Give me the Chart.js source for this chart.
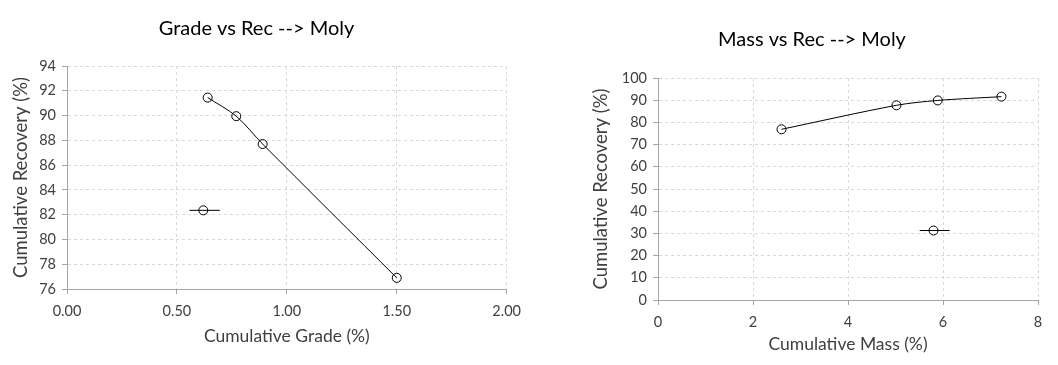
<!DOCTYPE html>
<html>
<head>
<meta charset="utf-8">
<script src="https://cdn.jsdelivr.net/npm/chart.js@4"></script>
<style>
  body { margin: 0; background: #fff; }
  .box { position: absolute; top: 0; height: 365px; }
  #left { left: 0; width: 530px; }
  #right { left: 530px; width: 528px; }
</style>
</head>
<body>
<div class="box" id="left"><canvas id="gradeChart"></canvas></div>
<div class="box" id="right"><canvas id="massChart"></canvas></div>
<script>
// ** Moly recovery curves

// grade vs recovery
var gradeX = [0.64, 0.77, 0.89, 1.50];
var gradeRec = [91.45, 89.95, 87.7, 76.9];
var gradeHead = [0.62];        // head assay point
var gradeHeadRec = [82.35];
var gradeErr = [0.557, 0.695]; // horizontal error bar ends

// mass vs recovery
var massX = [2.6, 5.02, 5.89, 7.23];
var massRec = [76.9, 87.7, 89.9, 91.6];
var massHead = [5.8];
var massHeadRec = [31.3];
var massErr = [5.51, 6.14];

var gradeTicks = { min: 0, max: 2, step: 0.5 };
var gradeRecTicks = { min: 76, max: 94, step: 2 };
var massTicks = { min: 0, max: 8, step: 2 };
var massRecTicks = { min: 0, max: 100, step: 10 };

Chart.defaults.font.family = "Lato, 'Open Sans', sans-serif";
Chart.defaults.color = '#404040';

function pts(xs, ys) {
	var out = [];
	for (var i in xs) {
		out.push({ x: xs[i], y: ys[i] });
	}
	return out;
}

function axis(t, title, decimals, titleSize, tickPad, size) {
	return {
		type: 'linear',
		min: t.min,
		max: t.max,
		ticks: {
			stepSize: t.step,
			font: { size: 14.5 },
			padding: tickPad,
			callback: function(v) { return v.toFixed(decimals); }
		},
		grid: {
			color: '#d9d9d9',
			tickColor: '#a6a6a6',
			tickBorderDash: [],
			tickLength: 5
		},
		border: { display: true, color: '#a6a6a6', dash: [3, 3] },
		title: {
			display: true,
			text: title,
			font: { size: titleSize },
			padding: { top: 4, bottom: 4 }
		},
		afterFit: size
	};
}

function makeChart(id, cfg) {
	var ctx = document.getElementById(id);
	return new Chart(ctx, {
		type: 'scatter',
		data: {
			datasets: [{
				label: 'curve',
				data: pts(cfg.x, cfg.y),
				showLine: true,
				borderColor: '#000',
				borderWidth: 1,
				tension: 0.3,
				pointRadius: 4.5,
				pointBorderWidth: 1,
				pointBorderColor: '#000',
				pointBackgroundColor: 'rgba(255,255,255,0)'
			}, {
				label: 'error',
				data: pts(cfg.err, [cfg.headY[0], cfg.headY[0]]),
				showLine: true,
				borderColor: '#000',
				borderWidth: 1,
				pointRadius: 0
			}, {
				label: 'head',
				data: pts(cfg.headX, cfg.headY),
				pointRadius: 4.5,
				pointBorderWidth: 1,
				pointBorderColor: '#000',
				pointBackgroundColor: 'rgba(255,255,255,0)'
			}]
		},
		options: {
			responsive: true,
			maintainAspectRatio: false,
			animation: false,
			layout: { padding: cfg.pad },
			plugins: {
				legend: { display: false },
				tooltip: { enabled: false },
				title: {
					display: true,
					text: cfg.title,
					color: '#000',
					font: { size: 20, weight: 'normal' },
					padding: cfg.titlePad
				}
			},
			scales: {
				x: axis(cfg.xt, cfg.xTitle, cfg.xDec, 17.5, 9, function(s) { s.height = cfg.xH; }),
				y: axis(cfg.yt, 'Cumulative Recovery (%)', 0, 18.5, 6, function(s) { s.width = cfg.yW; })
			}
		}
	});
}

makeChart('gradeChart', {
	x: gradeX, y: gradeRec, headX: gradeHead, headY: gradeHeadRec, err: gradeErr,
	xt: gradeTicks, yt: gradeRecTicks, xDec: 2,
	title: 'Grade vs Rec --> Moly', xTitle: 'Cumulative Grade (%)',
	pad: { left: 6, right: 23, top: 0, bottom: 14 },
	titlePad: { top: 17, bottom: 25 },
	xH: 62, yW: 61
});

makeChart('massChart', {
	x: massX, y: massRec, headX: massHead, headY: massHeadRec, err: massErr,
	xt: massTicks, yt: massRecTicks, xDec: 0,
	title: 'Mass vs Rec --> Moly', xTitle: 'Cumulative Mass (%)',
	pad: { left: 56, right: 20, top: 0, bottom: 6 },
	titlePad: { top: 28, bottom: 26 },
	xH: 59, yW: 72
});
</script>
</body>
</html>
